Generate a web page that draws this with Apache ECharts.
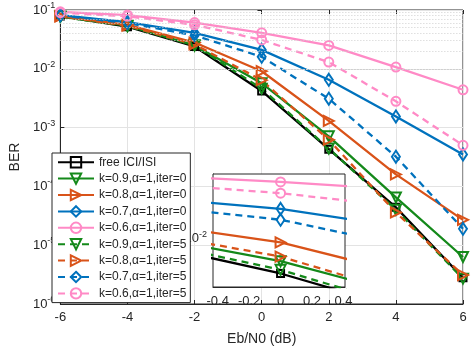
<!DOCTYPE html>
<html><head><meta charset="utf-8">
<script src="https://cdn.jsdelivr.net/npm/echarts@6/dist/echarts.min.js"></script>
<style>html,body{margin:0;padding:0;background:#fff}#c{width:474px;height:351px}</style>
</head><body><div id="c"></div><script>
// ---- data ----
const snr = [-6, -4, -2, 0, 2, 4, 6];
const freeICI = [0.079, 0.052, 0.024, 0.0042, 4.3e-4, 4.4e-5, 2.8e-6];
const k09iter0 = [0.077, 0.054, 0.025, 0.0057, 7.1e-4, 6.5e-5, 6.3e-6];
const k08iter0 = [0.079, 0.056, 0.028, 0.0091, 1.3e-3, 1.6e-4, 2.7e-5];
const k07iter0 = [0.082, 0.062, 0.041, 0.021, 0.0065, 1.55e-3, 3.5e-4];
const k06iter0 = [0.093, 0.082, 0.061, 0.041, 0.025, 0.0107, 0.0044];
const k09iter5 = [0.077, 0.053, 0.025, 0.0046, 4.4e-4, 4.0e-5, 2.7e-6];
const k08iter5 = [0.078, 0.054, 0.026, 0.0064, 6.2e-4, 3.6e-5, 3.1e-6];
const k07iter5 = [0.081, 0.060, 0.037, 0.016, 0.0031, 3.2e-4, 1.9e-5];
const k06iter5 = [0.090, 0.078, 0.056, 0.031, 0.013, 0.0028, 5.0e-4];
const seriesNames = ['free ICI/ISI', 'k=0.9,α=1,iter=0', 'k=0.8,α=1,iter=0', 'k=0.7,α=1,iter=0', 'k=0.6,α=1,iter=0',
  'k=0.9,α=1,iter=5', 'k=0.8,α=1,iter=5', 'k=0.7,α=1,iter=5', 'k=0.6,α=1,iter=5'];
const seriesData = [freeICI, k09iter0, k08iter0, k07iter0, k06iter0, k09iter5, k08iter5, k07iter5, k06iter5];
const xTicks = [-6, -4, -2, 0, 2, 4, 6];
const insetXTicks = [-0.4, -0.2, 0, 0.2, 0.4];
const xLabel = 'Eb/N0 (dB)';
const yLabel = 'BER';

// ---- styles ----
const BLACK = '#000000', GREEN = '#14891a', ORANGE = '#d95319', BLUE = '#0072bd', PINK = '#ff8ac6';
const styles = [
  {c: BLACK, dash: false, sym: 'rect', rot: 0, size: 7},
  {c: GREEN, dash: false, sym: 'triangle', rot: 180, size: 10},
  {c: ORANGE, dash: false, sym: 'triangle', rot: -90, size: 10},
  {c: BLUE, dash: false, sym: 'diamond', rot: 0, size: [8, 12]},
  {c: PINK, dash: false, sym: 'circle', rot: 0, size: 9},
  {c: GREEN, dash: true, sym: 'triangle', rot: 180, size: 10},
  {c: ORANGE, dash: true, sym: 'triangle', rot: -90, size: 10},
  {c: BLUE, dash: true, sym: 'diamond', rot: 0, size: [8, 12]},
  {c: PINK, dash: true, sym: 'circle', rot: 0, size: 9}
];
const TXT = '#262626';
const FONT = 'Liberation Sans, Arial, sans-serif';

const minorLog = [];
for (let e = -6; e <= -2; e++) for (let k = 2; k <= 9; k++) minorLog.push(+(k * Math.pow(10, e)).toPrecision(3));

function supFmt(v) {
  const e = Math.round(Math.log10(v));
  return '{b|10}{s|' + e + '}';
}
const richLab = {
  b: {fontSize: 13, color: TXT, fontFamily: FONT},
  s: {fontSize: 9, color: TXT, fontFamily: FONT, padding: [0, 0, 9, 0]}
};

function mk(i, gi) {
  const st = styles[i];
  return {
    name: seriesNames[i],
    type: 'line',
    xAxisIndex: gi, yAxisIndex: gi,
    data: snr.map((x, j) => [x, seriesData[i][j]]),
    symbol: st.sym, symbolRotate: st.rot, symbolSize: st.size,
    showAllSymbol: true,
    clip: true,
    lineStyle: {color: st.c, width: 2.3, type: st.dash ? [7, 5] : 'solid'},
    itemStyle: {color: 'rgba(255,255,255,0)', borderColor: st.c, borderWidth: 2},
    emphasis: {disabled: true},
    z: 3 + (gi ? 10 : 0),
    animation: false
  };
}

const series = [];
series.push({
  type: 'line', xAxisIndex: 0, yAxisIndex: 0, data: [], z: 1, silent: true,
  markLine: {silent: true, symbol: ['none', 'none'], label: {show: false}, animation: false,
    lineStyle: {color: '#cfcfcf', type: [1, 2], width: 1},
    data: minorLog.map(v => ({yAxis: v}))}
});
series.push({
  type: 'line', xAxisIndex: 1, yAxisIndex: 1, data: [], z: 11, silent: true,
  markLine: {silent: true, symbol: ['none', 'none'], label: {show: false}, animation: false,
    lineStyle: {color: '#cfcfcf', type: [1, 2], width: 1},
    data: [0.004, 0.005, 0.006, 0.007, 0.008, 0.009, 0.02, 0.03, 0.04].map(v => ({yAxis: v}))}
});
for (let i = 0; i < 9; i++) series.push(mk(i, 0));
for (let i = 0; i < 9; i++) { const s = mk(i, 1); s.name = 'inset' + i; series.push(s); }

const chart = echarts.init(document.getElementById('c'), null, {renderer: 'canvas'});
chart.setOption({
  animation: false,
  backgroundColor: '#fff',
  textStyle: {fontFamily: FONT},
  grid: [
    {left: 49, right: 11, top: 10, bottom: 43, show: true, borderColor: TXT, borderWidth: 1, backgroundColor: '#fff', z: 0},
    {left: 213, width: 132, top: 174, height: 113, show: true, borderColor: TXT, borderWidth: 1, backgroundColor: '#fff', z: 10}
  ],
  xAxis: [
    {type: 'value', gridIndex: 0, min: -6, max: 6, interval: 2,
      name: xLabel, nameLocation: 'middle', nameGap: 28, nameTextStyle: {fontSize: 14, color: TXT, fontFamily: FONT},
      axisLine: {onZero: false, lineStyle: {color: TXT}}, axisTick: {inside: true, length: 4, lineStyle: {color: TXT}},
      axisLabel: {fontSize: 13, color: TXT, margin: 7, fontFamily: FONT},
      splitLine: {show: true, lineStyle: {color: '#e3e3e3', width: 1}}},
    {type: 'value', gridIndex: 1, min: -0.43, max: 0.41,
      axisLine: {onZero: false, lineStyle: {color: TXT}},
      axisTick: {inside: true, length: 3, customValues: insetXTicks, lineStyle: {color: TXT}},
      axisLabel: {fontSize: 13, color: TXT, margin: 8, customValues: insetXTicks, fontFamily: FONT, hideOverlap: false,
        formatter: v => (Math.abs(v) < 1e-9 ? '0' : String(+v.toFixed(1)))},
      splitLine: {show: true, lineStyle: {color: '#e3e3e3', width: 1}}},
    {type: 'value', gridIndex: 0, position: 'top', min: -6, max: 6, interval: 2,
      axisLine: {show: false}, axisTick: {inside: true, length: 4, lineStyle: {color: TXT}},
      axisLabel: {show: false}, splitLine: {show: false}}
  ],
  yAxis: [
    {type: 'log', gridIndex: 0, min: 1e-6, max: 1e-1, logBase: 10,
      name: yLabel, nameLocation: 'middle', nameGap: 33, nameTextStyle: {fontSize: 14, color: TXT, fontFamily: FONT},
      axisLine: {onZero: false, lineStyle: {color: TXT}}, axisTick: {inside: true, length: 4, lineStyle: {color: TXT}},
      axisLabel: {formatter: supFmt, rich: richLab, margin: 5},
      splitLine: {show: true, lineStyle: {color: '#e3e3e3', width: 1}}},
    {type: 'log', gridIndex: 1, min: 0.003, max: 0.05, logBase: 10,
      axisLine: {onZero: false, lineStyle: {color: TXT}},
      axisTick: {inside: true, length: 3, customValues: [0.01], lineStyle: {color: TXT}},
      axisLabel: {formatter: supFmt, rich: richLab, margin: 6, customValues: [0.01]},
      splitLine: {show: true, lineStyle: {color: '#e3e3e3', width: 1}}},
    {type: 'log', gridIndex: 0, position: 'right', min: 1e-6, max: 1e-1, logBase: 10,
      axisLine: {show: false}, axisTick: {inside: true, length: 4, lineStyle: {color: TXT}},
      axisLabel: {show: false}, splitLine: {show: false}}
  ],
  legend: {
    show: true, orient: 'vertical', left: 52, top: 153,
    data: seriesNames,
    itemWidth: 36, itemHeight: 13, itemGap: 4,
    padding: [3, 4, 3, 5],
    backgroundColor: '#fff', borderColor: TXT, borderWidth: 1, borderRadius: 0,
    textStyle: {fontSize: 12, color: TXT, fontFamily: FONT},
    selectedMode: false, z: 20
  },
  series: series
});
</script></body></html>
